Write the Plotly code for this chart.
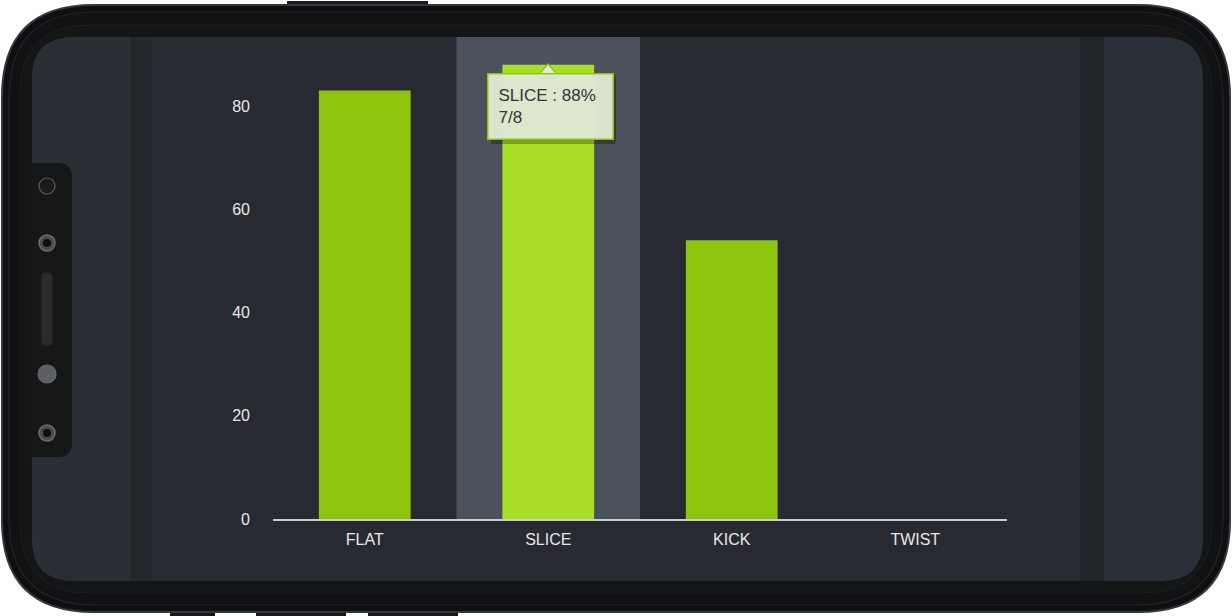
import plotly.graph_objects as go

# chart data
categories = ["FLAT", "SLICE", "KICK", "TWIST"]
values = [83, 88, 54, 0]
y_ticks = [0, 20, 40, 60, 80]
hovered = "SLICE"
tip_text = "SLICE : 88%<br>7/8"

W, H = 1232, 616
L, R, T, B = 273, 1007, 37, 519   # plot area in pixels


def px(x):
    return (x - L) / (R - L)


def py(y):
    return (B - y) / (B - T)


def rrect(x0, y0, x1, y1, tl, tr=None, br=None, bl=None):
    # rounded rectangle path, pixel coords -> paper coords
    tr = tl if tr is None else tr
    br = tl if br is None else br
    bl = tl if bl is None else bl
    p = lambda x, y: f"{px(x):.5f},{py(y):.5f}"
    d = f"M {p(x0 + tl, y0)} L {p(x1 - tr, y0)} Q {p(x1, y0)} {p(x1, y0 + tr)} "
    d += f"L {p(x1, y1 - br)} Q {p(x1, y1)} {p(x1 - br, y1)} "
    d += f"L {p(x0 + bl, y1)} Q {p(x0, y1)} {p(x0, y1 - bl)} "
    d += f"L {p(x0, y0 + tl)} Q {p(x0, y0)} {p(x0 + tl, y0)} Z"
    return d


shapes = []


def add_path(d, fill, line="rgba(0,0,0,0)", lw=0, layer="below"):
    shapes.append(dict(type="path", path=d, xref="paper", yref="paper", layer=layer,
                       fillcolor=fill, line=dict(color=line, width=lw)))


def add_rect(x0, y0, x1, y1, fill):
    shapes.append(dict(type="rect", xref="paper", yref="paper", layer="below",
                       x0=px(x0), x1=px(x1), y0=py(y1), y1=py(y0),
                       fillcolor=fill, line=dict(width=0)))


def add_circle(cx, cy, r, fill, line, lw=1.2):
    shapes.append(dict(type="circle", xref="paper", yref="paper", layer="below",
                       x0=px(cx - r), x1=px(cx + r), y0=py(cy + r), y1=py(cy - r),
                       fillcolor=fill, line=dict(color=line, width=lw)))


# phone body
add_rect(287, 1, 428, 8, "#1a1b1c")
for bx0, bx1 in [(170, 215), (256, 346), (368, 458)]:
    add_rect(bx0, 605, bx1, 616, "#151617")
add_path(rrect(2, 5, 1230, 612, 92), "#0e0f10", "#34373b", 2)
add_path(rrect(9, 12, 1223, 605, 86), "#111213", "#222528", 1.2)
add_path(rrect(20, 25, 1212, 593, 70), "#141516", "#1d1f22", 1)

# screen with its stripes
add_path(rrect(32, 37, 1203, 581, 42), "#2a3038")
add_path(rrect(32, 37, 140, 581, 42, 0, 0, 42), "#2a2f35")
add_rect(130, 37, 152, 581, "#24282d")
add_rect(152, 37, 1080, 581, "#272b31")
add_rect(1080, 37, 1104, 581, "#22262b")

# notch with camera and sensors
add_path(rrect(30, 163, 72, 457, 0, 14, 14, 0), "#161718")
add_circle(47, 186, 8, "#1a1b1c", "#5c5f62")
add_circle(47, 243, 8, "#4a4c4e", "#6a6d70", 1.5)
add_circle(47, 243, 3.5, "#111111", "#111111")
add_path(rrect(41, 272, 53, 346, 6), "#2a2b2c", "#1c1d1e", 1)
add_circle(47, 374, 9, "#5d6062", "#6a6d70")
add_circle(47, 433, 8, "#4a4c4e", "#6a6d70", 1.5)
add_circle(47, 433, 3.5, "#111111", "#111111")

# hover highlight band
i = categories.index(hovered)
shapes.append(dict(type="rect", xref="x", yref="paper", layer="below",
                   x0=i - 0.5, x1=i + 0.5, y0=0, y1=1,
                   fillcolor="#4b525b", line=dict(width=0)))

bar_colors = ["#a8df26" if c == hovered else "#8cc50c" for c in categories]

fig = go.Figure()
fig.add_trace(go.Bar(x=categories, y=values, marker=dict(color=bar_colors, line=dict(width=0)),
                     hoverinfo="skip"))

# tooltip shadow and pointer
add_path(rrect(491, 76, 616, 144, 2), "rgba(0,0,0,0.28)", layer="above")
tip_top = 73
shapes.append(dict(type="path", xref="paper", yref="paper", layer="above",
                   path=f"M {px(539):.5f},{py(tip_top + 1):.5f} L {px(548):.5f},{py(64):.5f} "
                        f"L {px(557):.5f},{py(tip_top + 1):.5f} Z",
                   fillcolor="#e3e9d9", line=dict(color="#8cc50c", width=1.5)))

fig.add_annotation(x=hovered, y=values[i], yref="y", yanchor="top", yshift=-8, xshift=2,
                   text=tip_text, showarrow=False, align="left", valign="middle",
                   width=104, height=44, borderpad=10,
                   bgcolor="rgba(228,235,216,0.95)", bordercolor="#8cc50c", borderwidth=1.5,
                   font=dict(family="Liberation Sans, Arial", size=17, color="#333333"))

fig.update_layout(
    width=W, height=H, autosize=False,
    margin=dict(l=L, r=W - R, t=T, b=H - B, pad=0),
    paper_bgcolor="white",
    plot_bgcolor="rgba(0,0,0,0)",
    bargap=0.5,
    showlegend=False,
    shapes=shapes,
    font=dict(family="Liberation Sans, Arial", size=16, color="#e8e8e8"),
    xaxis=dict(range=[-0.5, 3.5], showgrid=False, zeroline=False,
               showline=True, linecolor="#c9ced4", linewidth=1.5,
               ticks="", ticklabelstandoff=5, tickfont=dict(size=16, color="#e8e8e8")),
    yaxis=dict(range=[0, (B - T) / 5.1625], showgrid=False, zeroline=False, showline=False,
               tickvals=y_ticks, ticks="", ticklabelstandoff=22,
               tickfont=dict(size=16, color="#e8e8e8")),
)

fig.write_html("out.html", config={"displayModeBar": False},
               post_script="document.body.style.margin='0';")
